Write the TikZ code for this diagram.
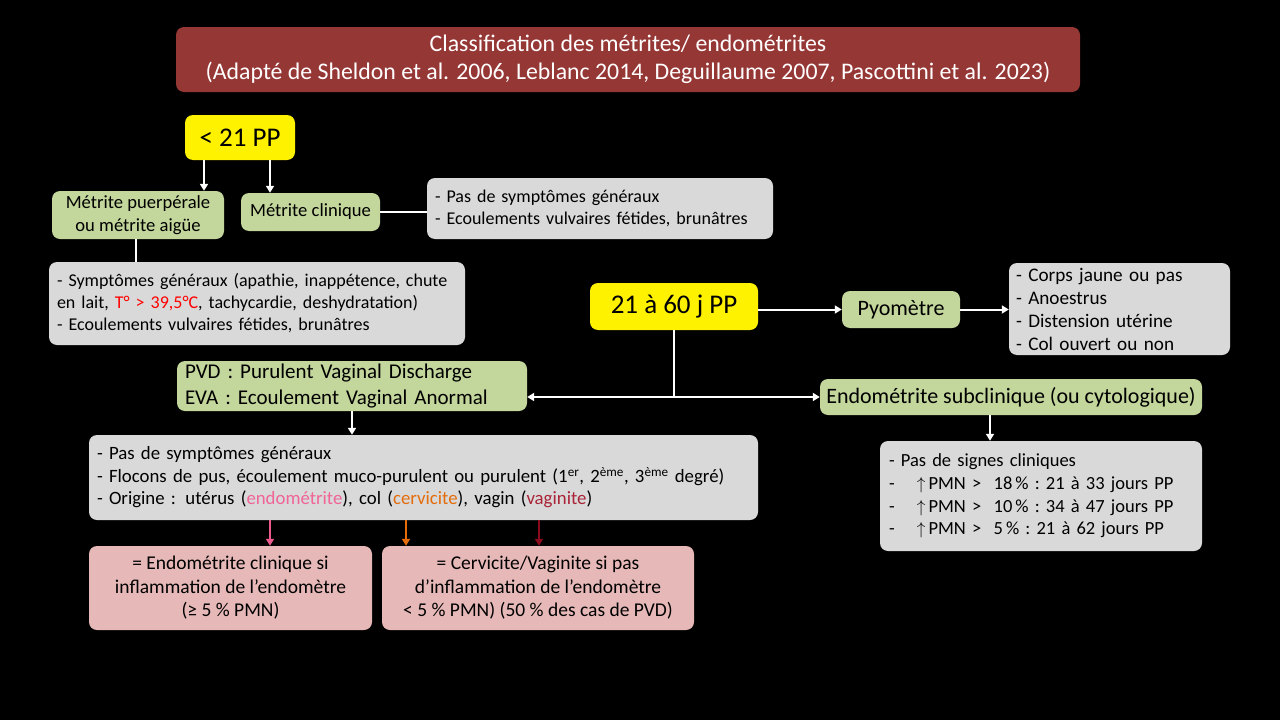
\documentclass[tikz,border=0pt]{standalone}
\usepackage{fontspec}
\setmainfont{Carlito}
\usetikzlibrary{arrows.meta}

\definecolor{titlered}{RGB}{149,55,53}
\definecolor{boxgreen}{RGB}{195,214,155}
\definecolor{boxgray}{RGB}{217,217,217}
\definecolor{boxpink}{RGB}{230,185,184}
\definecolor{endopink}{RGB}{240,100,150}
\definecolor{cervorange}{RGB}{228,108,10}
\definecolor{vagred}{RGB}{170,35,55}
\definecolor{arrpink}{RGB}{235,90,140}
\definecolor{arrred}{RGB}{140,10,30}

\begin{document}
\begin{tikzpicture}[x=1pt,y=-1pt,
    box/.style={rounded corners=8pt,inner sep=0pt,align=center,text=black,font=\fontsize{18}{22}\selectfont},
    greenbox/.style={box,fill=boxgreen,font=\fontsize{18.6}{22.5}\selectfont},
    yellowbox/.style={box,fill=yellow,font=\fontsize{27}{32}\selectfont},
    pinkbox/.style={box,fill=boxpink,font=\fontsize{19.5}{23.5}\selectfont},
    note/.style={box,fill=boxgray,align=left,inner xsep=8pt},
    link/.style={white,line width=2pt},
    arr/.style={link,-{Triangle[width=8pt,length=7pt]}}]

    \fill[black] (0,0) rectangle (1280,720);
    \useasboundingbox (0,0) rectangle (1280,720);

    % title
    \node[box,fill=titlered,text=white,font=\fontsize{23.8}{28}\selectfont,
      minimum width=904pt,minimum height=65pt] (title) at (628,59.5)
      {Classification des métrites/ endométrites\\
       (Adapté de Sheldon et al. 2006, Leblanc 2014, Deguillaume 2007, Pascottini et al. 2023)};

    % before 21 days
    \node[yellowbox,minimum width=110pt,minimum height=45pt] (lt21) at (240,137.5) {< 21 PP};
    \node[greenbox,minimum width=172pt,minimum height=48pt] (puerp) at (138,215)
      {Métrite puerpérale\\ ou métrite aigüe};
    \node[greenbox,minimum width=139pt,minimum height=38pt] (clin) at (310.5,212) {Métrite clinique};
    \node[note,text width=330pt,minimum height=61pt] (clinnote) at (600,208.5)
      {- Pas de symptômes généraux\\
       - Ecoulements vulvaires fétides, brunâtres};
    \node[note,text width=400pt,minimum height=83pt] (puerpnote) at (257,303.5)
      {- Symptômes généraux (apathie, inappétence, chute\\
       en lait, \textcolor{red}{T° > 39,5°C}, tachycardie, deshydratation)\\
       - Ecoulements vulvaires fétides, brunâtres};

    % 21 to 60 days
    \node[yellowbox,minimum width=168pt,minimum height=47pt] (d2160) at (674,306.5) {21 à 60 j PP};
    \node[greenbox,font=\fontsize{22}{26}\selectfont,minimum width=118pt,minimum height=37pt] (pyo) at (901,309.5) {Pyomètre};
    \node[note,font=\fontsize{19.2}{23}\selectfont,inner xsep=7pt,text width=207pt,minimum height=92pt] (pyonote) at (1119.5,309)
      {- Corps jaune ou pas\\
       - Anoestrus\\
       - Distension utérine\\
       - Col ouvert ou non};
    \node[greenbox,font=\fontsize{21}{26}\selectfont,align=left,inner xsep=8pt,text width=334pt,minimum height=50pt] (pvd) at (352,386)
      {PVD : Purulent Vaginal Discharge\\
       EVA : Ecoulement Vaginal Anormal};
    \node[greenbox,font=\fontsize{22}{26}\selectfont,minimum width=382pt,minimum height=36pt] (subcl) at (1011,397)
      {Endométrite subclinique (ou cytologique)};
    \node[note,font=\fontsize{18.8}{22.5}\selectfont,text width=653pt,minimum height=85pt] (pvdnote) at (423.5,477.5)
      {- Pas de symptômes généraux\\
       - Flocons de pus, écoulement muco-purulent ou purulent (1\textsuperscript{er}, 2\textsuperscript{ème}, 3\textsuperscript{ème} degré)\\
       - Origine : utérus (\textcolor{endopink}{endométrite}), col (\textcolor{cervorange}{cervicite}), vagin (\textcolor{vagred}{vaginite})};
    \node[note,font=\fontsize{18.5}{22.7}\selectfont,inner xsep=9pt,text width=304pt,minimum height=110pt] (subnote) at (1041,496)
      {- Pas de signes cliniques\\
       -\hspace{1.2em}$\uparrow$\,PMN >\ \ 18\,\% :\ 21 à 33 jours PP\\
       -\hspace{1.2em}$\uparrow$\,PMN >\ \ 10\,\% :\ 34 à 47 jours PP\\
       -\hspace{1.2em}$\uparrow$\,PMN >\ \ 5\,\% :\ 21 à 62 jours PP};
    \node[pinkbox,minimum width=283pt,minimum height=84pt] (endo) at (230.5,588)
      {= Endométrite clinique si\\ inflammation de l’endomètre\\ (≥ 5 \% PMN)};
    \node[pinkbox,minimum width=312pt,minimum height=84pt] (cervvag) at (538,588)
      {= Cervicite/Vaginite si pas\\ d’inflammation de l’endomètre\\ < 5 \% PMN) (50 \% des cas de PVD)};

    % connectors
    \draw[arr] ([xshift=-36pt]lt21.south) -- ([xshift=-36pt]lt21.south |- puerp.north);
    \draw[arr] ([xshift=30pt]lt21.south) -- ([xshift=30pt]lt21.south |- clin.north);
    \draw[link] (clin.east) -- (clin.east -| clinnote.west);
    \draw[link] ([xshift=-2pt]puerp.south) -- ([xshift=-2pt]puerp.south |- puerpnote.north);
    \draw[arr] (pyo.west -| d2160.east) -- (pyo.west);
    \draw[arr] (pyo.east) -- (pyo.east -| pyonote.west);
    \coordinate (split) at (d2160.south |- subcl.west);
    \draw[link] (d2160.south) -- (split);
    \draw[arr] (split) -- (split -| pvd.east);
    \draw[arr] (split) -- (subcl.west);
    \draw[arr] (pvd.south) -- (pvd.south |- pvdnote.north);
    \draw[arr] ([xshift=-21pt]subcl.south) -- ([xshift=-21pt]subcl.south |- subnote.north);
    \foreach \dx/\col in {-153.5/arrpink,-17.5/cervorange,115.5/arrred}
      \draw[line width=2pt,\col,-{Triangle[width=8pt,length=7pt]}]
        ([xshift=\dx pt]pvdnote.south) -- ([xshift=\dx pt]pvdnote.south |- endo.north);
\end{tikzpicture}
\end{document}
